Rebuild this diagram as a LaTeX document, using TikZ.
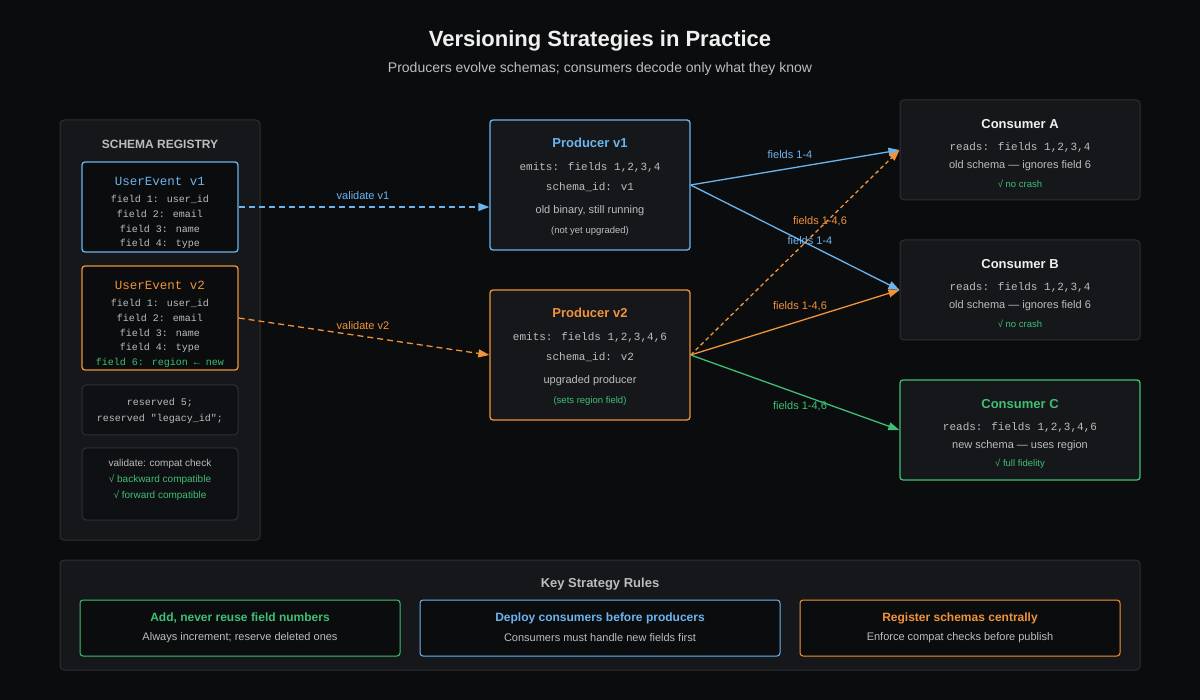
\documentclass[tikz,border=0pt]{standalone}
\usepackage{fontspec}
\setmainfont{Liberation Sans}
\newfontfamily\monofont{Liberation Mono}
\usetikzlibrary{arrows.meta}
\definecolor{bgc}{HTML}{0B0C0E}
\definecolor{panelc}{HTML}{16171A}
\definecolor{edgec}{HTML}{2E3035}
\definecolor{bluec}{HTML}{6CB4EE}
\definecolor{orangec}{HTML}{F0933A}
\definecolor{greenc}{HTML}{3FBF74}
\definecolor{greyc}{HTML}{BDBDBD}
\definecolor{whitec}{HTML}{F0F0F0}
\tikzset{
  box/.style={draw=#1, rounded corners=3pt, line width=1.3pt, fill=bgc, inner sep=0pt},
  panel/.style={draw=edgec, rounded corners=4pt, line width=1pt, fill=panelc, inner sep=0pt},
  txt/.style={text=greyc, font=\fontsize{11}{13}\selectfont, inner sep=0pt},
  small/.style={text=greyc, font=\fontsize{10}{12}\selectfont, inner sep=0pt},
  tiny/.style={text=greyc, font=\fontsize{9.5}{11}\selectfont, inner sep=0pt},
  mono/.style={text=greyc, font=\monofont\fontsize{11}{13}\selectfont, inner sep=0pt},
  rmono/.style={text=greyc, font=\monofont\fontsize{10}{12}\selectfont, inner sep=0pt},
  head/.style={font=\bfseries\fontsize{13}{15}\selectfont, inner sep=0pt},
  lbl/.style={font=\fontsize{11}{13}\selectfont, inner sep=0pt},
  flow/.style={draw=#1, line width=1.3pt, -{Triangle[length=11pt,width=8pt]}},
}
\begin{document}
\begin{tikzpicture}[x=1pt, y=-1pt]
\fill[bgc] (0,0) rectangle (1200,700);
\useasboundingbox (0,0) rectangle (1200,700);

\node[text=whitec, font=\bfseries\fontsize{22}{26}\selectfont] (title) at (600,41) {Versioning Strategies in Practice};
\node[text=greyc, font=\fontsize{14}{17}\selectfont] (subtitle) at (600,69) {Producers evolve schemas; consumers decode only what they know};

% registry
\node[panel, minimum width=200pt, minimum height=420pt] (reg) at (160,330) {};
\node[text=greyc, font=\bfseries\fontsize{12}{14}\selectfont] (regt) at (160,144) {SCHEMA REGISTRY};
\node[box=bluec, minimum width=156pt, minimum height=90pt] (v1) at (160,207) {};
\node[rmono, text=bluec, font=\monofont\fontsize{12.5}{15}\selectfont] at (160,181) {UserEvent v1};
\node[rmono] at (160,199) {field 1: user\_id};
\node[rmono] at (160,214) {field 2: email};
\node[rmono] at (160,229) {field 3: name};
\node[rmono] at (160,244) {field 4: type};
\node[box=orangec, minimum width=156pt, minimum height=104pt] (v2) at (160,318) {};
\node[rmono, text=orangec, font=\monofont\fontsize{12.5}{15}\selectfont] at (160,285) {UserEvent v2};
\node[rmono] at (160,303) {field 1: user\_id};
\node[rmono] at (160,318) {field 2: email};
\node[rmono] at (160,333) {field 3: name};
\node[rmono] at (160,348) {field 4: type};
\node[rmono, text=greenc] at (160,363) {field 6: region ← new};
\node[panel, fill=bgc!60!panelc, minimum width=156pt, minimum height=50pt] (res) at (160,410) {};
\node[rmono] at (160,403) {reserved 5;};
\node[rmono] at (160,419) {reserved "legacy\_id";};
\node[panel, fill=bgc!60!panelc, minimum width=156pt, minimum height=72pt] (val) at (160,484) {};
\node[small] at (160,464) {validate: compat check};
\node[small, text=greenc] at (160,480) {√ backward compatible};
\node[small, text=greenc] at (160,496) {√ forward compatible};

% producers
\node[box=bluec, fill=panelc, minimum width=200pt, minimum height=130pt] (p1) at (590,185) {};
\node[head, text=bluec] at (590,143) {Producer v1};
\node[mono] at (590,167) {emits: fields 1,2,3,4};
\node[mono] at (590,187) {schema\_id: v1};
\node[txt] at (590,211) {old binary, still running};
\node[tiny] at (590,231) {(not yet upgraded)};
\node[box=orangec, fill=panelc, minimum width=200pt, minimum height=130pt] (p2) at (590,355) {};
\node[head, text=orangec] at (590,313) {Producer v2};
\node[mono] at (590,337) {emits: fields 1,2,3,4,6};
\node[mono] at (590,357) {schema\_id: v2};
\node[txt] at (590,381) {upgraded producer};
\node[tiny, text=greenc] at (590,401) {(sets region field)};

% consumers
\node[panel, minimum width=240pt, minimum height=100pt] (ca) at (1020,150) {};
\node[head, text=whitec] at (1020,124) {Consumer A};
\node[mono] at (1020,147) {reads: fields 1,2,3,4};
\node[txt] at (1020,166) {old schema — ignores field 6};
\node[tiny, text=greenc] at (1020,184) {√ no crash};
\node[panel, minimum width=240pt, minimum height=100pt] (cb) at (1020,290) {};
\node[head, text=whitec] at (1020,264) {Consumer B};
\node[mono] at (1020,287) {reads: fields 1,2,3,4};
\node[txt] at (1020,306) {old schema — ignores field 6};
\node[tiny, text=greenc] at (1020,324) {√ no crash};
\node[box=greenc, fill=panelc, minimum width=240pt, minimum height=100pt] (cc) at (1020,430) {};
\node[head, text=greenc] at (1020,404) {Consumer C};
\node[mono] at (1020,427) {reads: fields 1,2,3,4,6};
\node[txt] at (1020,446) {new schema — uses region};
\node[tiny, text=greenc] at (1020,464) {√ full fidelity};

% flows
\draw[flow=bluec, dash pattern=on 6pt off 4pt] (v1.east) -- (v1.east -| p1.west);
\node[lbl, text=bluec] at (363,196) {validate v1};
\draw[flow=orangec, dash pattern=on 6pt off 4pt] (v2.east) -- (p2.west);
\node[lbl, text=orangec] at (363,326) {validate v2};
\draw[flow=bluec] (p1.east) -- (ca.west);
\node[lbl, text=bluec] at (790,155) {fields 1-4};
\draw[flow=bluec] (p1.east) -- (cb.west);
\node[lbl, text=bluec] at (810,241) {fields 1-4};
\draw[flow=orangec, dash pattern=on 4pt off 3pt] (p2.east) -- (ca.west);
\node[lbl, text=orangec] at (820,221) {fields 1-4,6};
\draw[flow=orangec] (p2.east) -- (cb.west);
\node[lbl, text=orangec] at (800,306) {fields 1-4,6};
\draw[flow=greenc] (p2.east) -- (cc.west);
\node[lbl, text=greenc] at (800,406) {fields 1-4,6};

% rules
\node[panel, minimum width=1080pt, minimum height=110pt] (rules) at (600,615) {};
\node[text=greyc, font=\bfseries\fontsize{13}{15}\selectfont] at (600,584) {Key Strategy Rules};
\node[box=greenc, line width=1pt, minimum width=320pt, minimum height=56pt] (r1) at (240,628) {};
\node[head, text=greenc, font=\bfseries\fontsize{12}{14}\selectfont] at (240,618) {Add, never reuse field numbers};
\node[txt] at (240,638) {Always increment; reserve deleted ones};
\node[box=bluec, line width=1pt, minimum width=360pt, minimum height=56pt] (r2) at (600,628) {};
\node[head, text=bluec, font=\bfseries\fontsize{12}{14}\selectfont] at (600,618) {Deploy consumers before producers};
\node[txt] at (600,638) {Consumers must handle new fields first};
\node[box=orangec, line width=1pt, minimum width=320pt, minimum height=56pt] (r3) at (960,628) {};
\node[head, text=orangec, font=\bfseries\fontsize{12}{14}\selectfont] at (960,618) {Register schemas centrally};
\node[txt] at (960,638) {Enforce compat checks before publish};
\end{tikzpicture}
\end{document}
